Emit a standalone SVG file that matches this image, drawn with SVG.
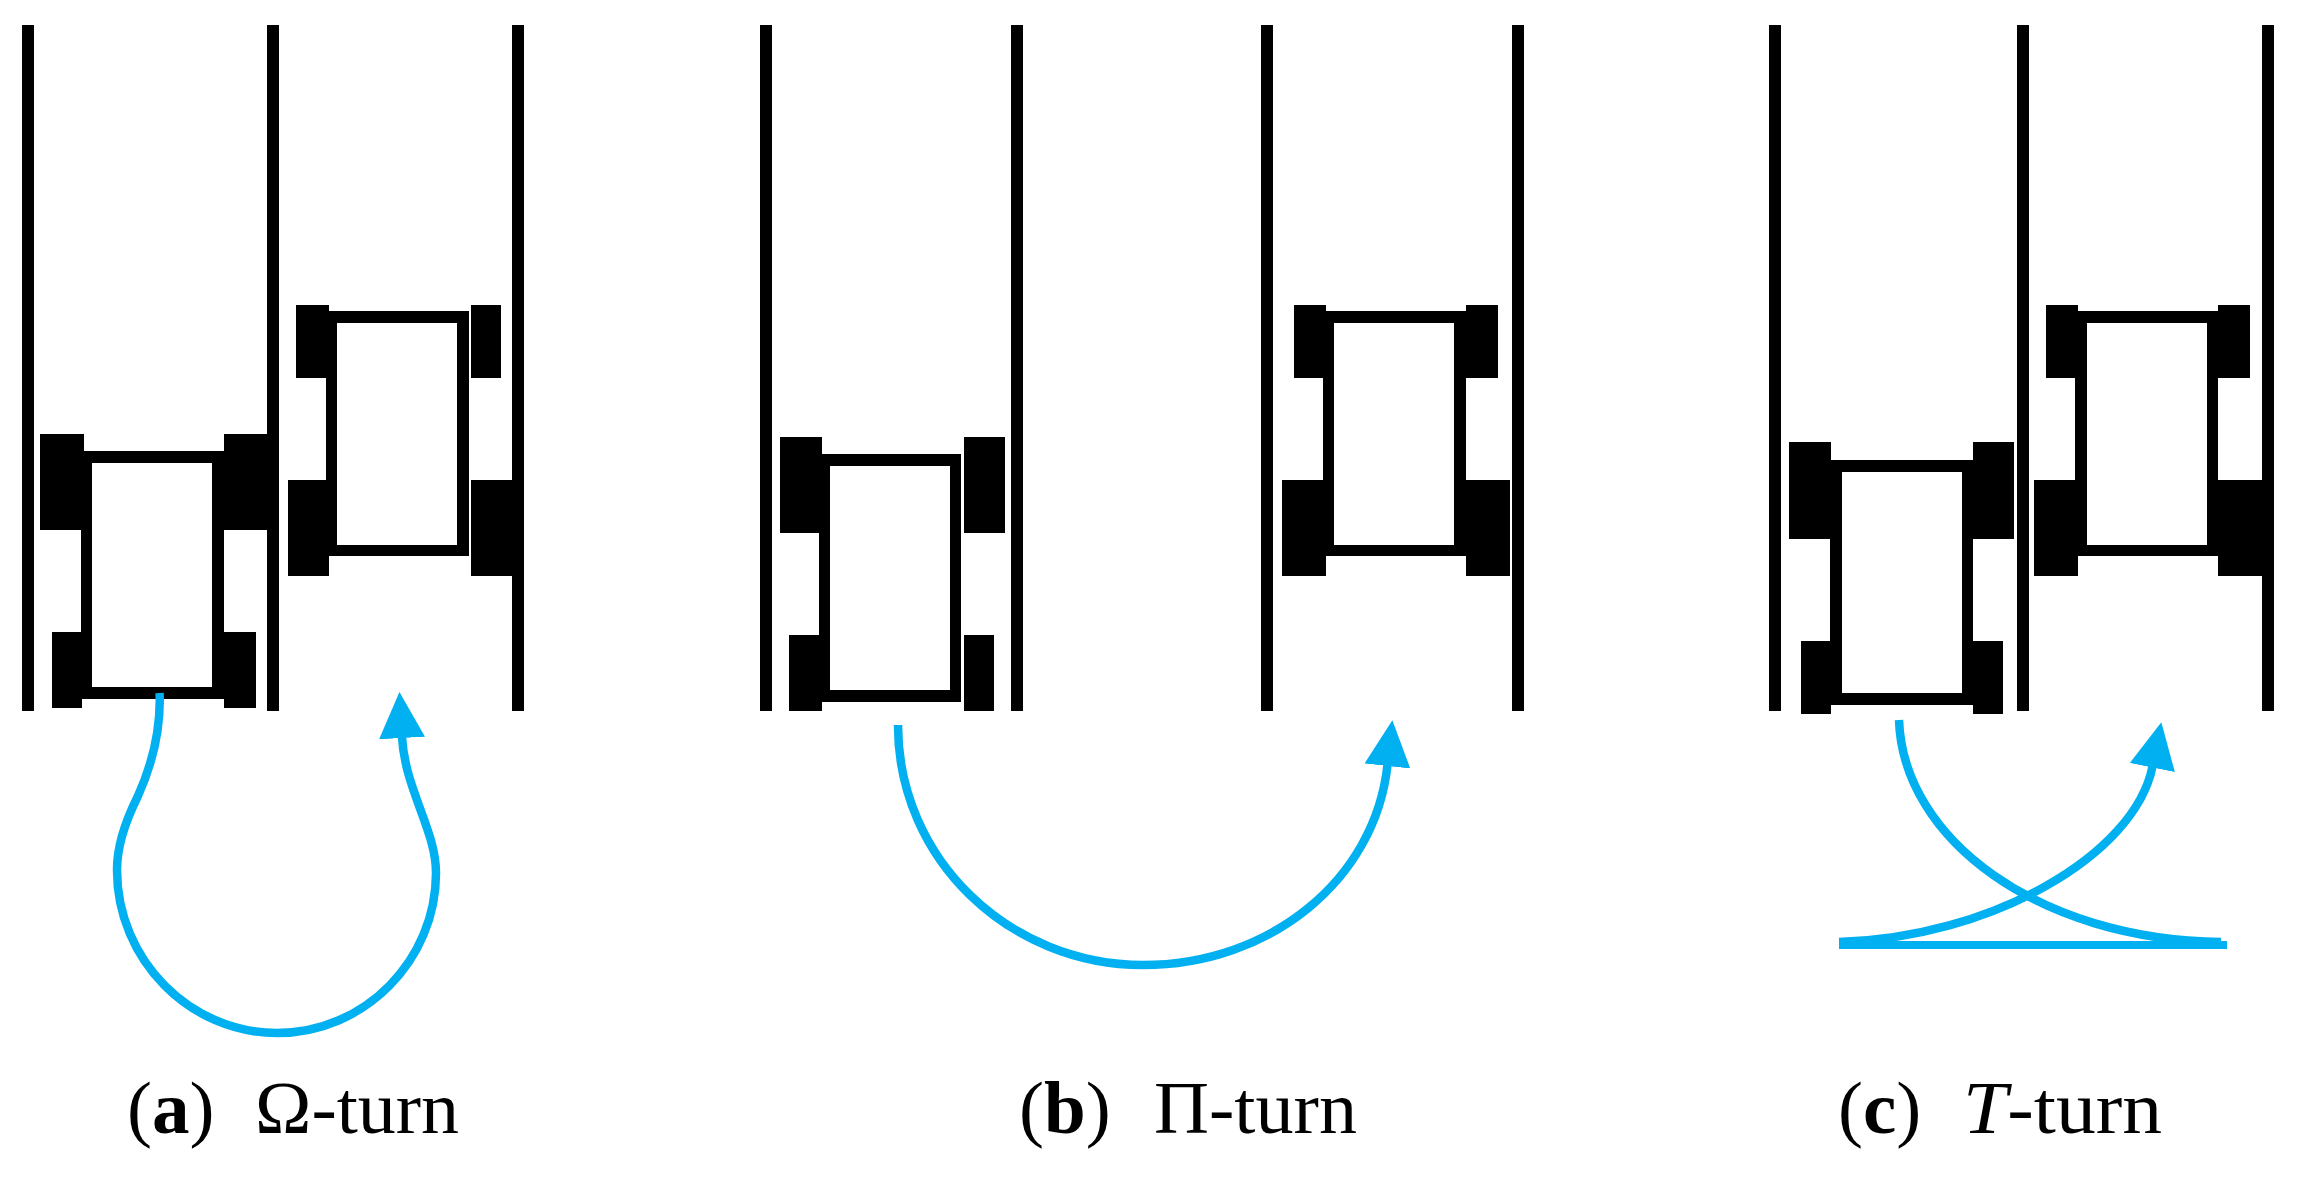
<svg xmlns="http://www.w3.org/2000/svg" width="2299" height="1179" viewBox="0 0 2299 1179">
<style>
.k{fill:#000}
.w{fill:#fff}
.c{fill:none;stroke:#00b0f0;stroke-width:8.500}
.t{font-family:"Liberation Serif","Times New Roman",serif;font-size:75px;fill:#000}
.b{font-weight:bold}
.i{font-style:italic}
</style>
<defs>
<marker id="ah" markerUnits="userSpaceOnUse" markerWidth="46" markerHeight="46" viewBox="0 0 46 46" refX="1" refY="23" orient="auto"><polygon points="0,0 46,23 0,46" fill="#00b0f0"/></marker>
</defs>
<rect width="2299" height="1179" fill="#fff"/>
<g id="walls">
<rect class="k" x="22" y="25" width="12" height="686"/>
<rect class="k" x="267" y="25" width="12" height="686"/>
<rect class="k" x="512" y="25" width="12" height="686"/>
<rect class="k" x="760" y="25" width="12" height="686"/>
<rect class="k" x="1011" y="25" width="12" height="686"/>
<rect class="k" x="1261" y="25" width="12" height="686"/>
<rect class="k" x="1512" y="25" width="12" height="686"/>
<rect class="k" x="1769" y="25" width="12" height="686"/>
<rect class="k" x="2017" y="25" width="12" height="686"/>
<rect class="k" x="2262" y="25" width="12" height="686"/>
</g>
<g id="car-a1">
<rect class="k" x="40" y="434" width="44" height="96"/>
<rect class="k" x="224" y="434" width="44" height="96"/>
<rect class="k" x="52" y="632" width="30" height="76"/>
<rect class="k" x="224" y="632" width="32" height="76"/>
<rect class="k" x="81" y="451" width="143" height="248"/>
<rect class="w" x="92" y="463" width="120" height="224"/>
</g>
<g id="car-a2">
<rect class="k" x="296" y="305" width="33" height="73"/>
<rect class="k" x="471" y="305" width="30" height="73"/>
<rect class="k" x="288" y="480" width="41" height="96"/>
<rect class="k" x="471" y="480" width="42" height="96"/>
<rect class="k" x="326" y="311" width="143" height="245"/>
<rect class="w" x="337" y="323" width="120" height="222"/>
</g>
<g id="car-b1">
<rect class="k" x="780" y="437" width="42" height="96"/>
<rect class="k" x="964" y="437" width="41" height="96"/>
<rect class="k" x="789" y="635" width="33" height="76"/>
<rect class="k" x="964" y="635" width="30" height="76"/>
<rect class="k" x="819" y="454" width="142" height="248"/>
<rect class="w" x="830" y="466" width="120" height="224"/>
</g>
<g id="car-b2">
<rect class="k" x="1294" y="305" width="32" height="73"/>
<rect class="k" x="1466" y="305" width="32" height="73"/>
<rect class="k" x="1282" y="480" width="44" height="96"/>
<rect class="k" x="1466" y="480" width="44" height="96"/>
<rect class="k" x="1323" y="311" width="143" height="245"/>
<rect class="w" x="1334" y="323" width="120" height="222"/>
</g>
<g id="car-c1">
<rect class="k" x="1789" y="442" width="42" height="97"/>
<rect class="k" x="1973" y="442" width="41" height="97"/>
<rect class="k" x="1801" y="641" width="30" height="73"/>
<rect class="k" x="1973" y="641" width="30" height="73"/>
<rect class="k" x="1830" y="460" width="143" height="245"/>
<rect class="w" x="1842" y="472" width="120" height="221"/>
</g>
<g id="car-c2">
<rect class="k" x="2046" y="305" width="32" height="73"/>
<rect class="k" x="2218" y="305" width="32" height="73"/>
<rect class="k" x="2034" y="480" width="44" height="96"/>
<rect class="k" x="2218" y="480" width="44" height="96"/>
<rect class="k" x="2075" y="311" width="143" height="245"/>
<rect class="w" x="2087" y="323" width="120" height="222"/>
</g>
<g id="connectors">
<path class="c" marker-end="url(#ah)" d="M159.600 693C161 730 152 765 137.500 797C125 822 117 845 117 870C117 960 190 1033 277 1033C365 1033 436 960 436 873C436 830 405 790 402 737"/>
<path class="c" marker-end="url(#ah)" d="M898 725C898 860 1010 965 1143 965C1270 965 1375 880 1387.500 765"/>
<path class="c" marker-end="url(#ah)" d="M1839 942C1990 938 2134.700 855.500 2152.500 766.500"/>
<path class="c" d="M1899 720C1903 840 2040 940 2221 942"/>
<rect x="1839" y="941" width="388" height="8" fill="#00b0f0"/>
</g>
<g id="label-a">
<text class="t" x="127" y="1133">(<tspan class="b">a</tspan>)</text>
<text class="t" x="255" y="1133" textLength="204" lengthAdjust="spacingAndGlyphs">Ω-turn</text>
</g>
<g id="label-b">
<text class="t" x="1019" y="1133">(<tspan class="b">b</tspan>)</text>
<text class="t" x="1154" y="1133" textLength="203" lengthAdjust="spacingAndGlyphs">Π-turn</text>
</g>
<g id="label-c">
<text class="t" x="1838" y="1133">(<tspan class="b">c</tspan>)</text>
<text class="t" x="1963" y="1133" textLength="199" lengthAdjust="spacingAndGlyphs"><tspan class="i">T</tspan>-turn</text>
</g>
</svg>
